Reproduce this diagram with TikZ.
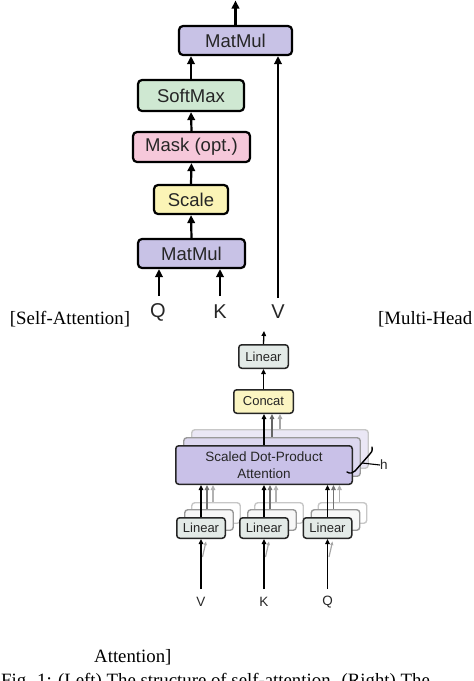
\documentclass[tikz,border=0pt]{standalone}
\usepackage{fontspec}
\setmainfont{Liberation Serif}
\newfontfamily\diagfont{Liberation Sans}
\usetikzlibrary{arrows.meta}
\definecolor{mmfill}{HTML}{C8C2E6}
\definecolor{smfill}{HTML}{CFE8D2}
\definecolor{maskfill}{HTML}{F6C8DA}
\definecolor{scalefill}{HTML}{FBF4B6}
\definecolor{linfill}{HTML}{E3EAE7}
\definecolor{catfill}{HTML}{FBF5C2}
\definecolor{sdpafill}{HTML}{C9C1E8}
\definecolor{sdpaback}{HTML}{DCD7EF}
\definecolor{sdpaback2}{HTML}{EAE7F5}
\begin{document}
\begin{tikzpicture}[x=1pt,y=-1pt,
  bigbox/.style={draw=black, line width=2.2pt, rounded corners=4pt, inner sep=0pt,
    font=\diagfont\fontsize{18.5}{20}\selectfont, text=black!85},
  smallbox/.style={draw=black!85, line width=1.5pt, rounded corners=3pt, inner sep=0pt,
    font=\diagfont\fontsize{13}{15}\selectfont, text=black!85},
  backbox/.style={line width=1.4pt, rounded corners=3pt, inner sep=0pt},
  bigarr/.style={line width=2.2pt, -{Triangle[length=8pt,width=7.5pt]}},
  smallarr/.style={line width=1.3pt, -{Triangle[length=5pt,width=4.5pt]}},
  biglabel/.style={font=\diagfont\fontsize{20}{22}\selectfont, text=black!85, inner sep=0pt},
  smalllabel/.style={font=\diagfont\fontsize{13.5}{15}\selectfont, text=black!85, inner sep=0pt},
  serif/.style={font=\fontsize{18.8}{21}\selectfont, inner sep=0pt},
]
\useasboundingbox (0,0) rectangle (474,681);
\clip (0,0) rectangle (474,681);

% ---------- Self-attention (top) ----------
\node[bigbox, fill=mmfill, minimum width=113pt, minimum height=29pt] (mmtop) at (235.5,40.5) {MatMul};
\node[bigbox, fill=smfill, minimum width=106pt, minimum height=31pt] (soft) at (191,95.5) {SoftMax};
\node[bigbox, fill=maskfill, minimum width=117pt, minimum height=30pt] (mask) at (191.5,147) {Mask (opt.)};
\node[bigbox, fill=scalefill, minimum width=74pt, minimum height=29pt] (scale) at (191,199.5) {Scale};
\node[bigbox, fill=mmfill, minimum width=107pt, minimum height=29pt] (mmbot) at (191.5,253.5) {MatMul};

\coordinate (outtop) at (235.5,0.5);
\draw[bigarr] (mmtop.north) -- (outtop);
\draw[bigarr] (soft.north) -- (soft.north |- mmtop.south);
\draw[bigarr] (mask.north) -- (soft.south);
\draw[bigarr] (scale.north) -- (mask.south);
\draw[bigarr] (mmbot.north) -- (scale.south);

\node[biglabel] (Qt) at (158,312) {Q};
\node[biglabel] (Kt) at (220,312) {K};
\node[biglabel] (Vt) at (278,312) {V};
\coordinate (qs) at (159,296);
\coordinate (ks) at (220,296);
\coordinate (vs) at (278,298);
\draw[bigarr] (qs) -- (qs |- mmbot.south);
\draw[bigarr] (ks) -- (ks |- mmbot.south);
\draw[bigarr] (vs) -- (vs |- mmtop.south);

\node[serif] (selfatt) at (70,319) {[Self-Attention]};
\node[serif, anchor=west] (multihead) at (378,319) {[Multi-Head};

% ---------- Multi-head attention (bottom) ----------
\node[smallbox, fill=linfill, minimum width=49.5pt, minimum height=23.5pt] (lintop) at (263.5,356.5) {Linear};
\node[smallbox, fill=catfill, minimum width=59.5pt, minimum height=23.5pt] (concat) at (263.5,401.5) {Concat};
\coordinate (mhout) at (264,331);
\draw[smallarr] (lintop.north) -- (mhout);
\draw[smallarr] (concat.north) -- (lintop.south);

% SDPA stack
\node[backbox, fill=sdpaback2, draw=black!22, minimum width=176.5pt, minimum height=38.5pt] (sdpa3) at (280,449) {};
\node[backbox, fill=sdpaback, draw=black!40, minimum width=176.5pt, minimum height=38.5pt] (sdpa2) at (272,457) {};
\node[smallbox, fill=sdpafill, minimum width=176.5pt, minimum height=38.5pt, align=center,
      font=\diagfont\fontsize{13.5}{17}\selectfont] (sdpa) at (264,465) {Scaled Dot-Product\\Attention};

\draw[smallarr, draw=black!35] (sdpa3.north) -- (sdpa3.north |- concat.south);
\draw[smallarr, draw=black!60] (sdpa2.north) -- (sdpa2.north |- concat.south);
\draw[smallarr] (sdpa.north) -- (sdpa.north |- concat.south);

% h brace
\coordinate (brlow) at (347,472);
\coordinate (brhigh) at (372,447);
\draw[line width=1.4pt, line cap=round] (brlow) .. controls (350,474) and (353,473) .. (355,471)
   -- (369,455) .. controls (371,453) and (373,451) .. (brhigh);
\coordinate (hstem) at (362,463);
\node[smalllabel, anchor=west] (hlab) at (380,465) {h};
\draw[line width=1.1pt] (hstem) -- (hlab.west);

% Linear stacks
\foreach \n/\x in {v/201, k/264, q/327.5} {
  \node[backbox, fill=white, draw=black!22, minimum width=48.5pt, minimum height=20.5pt] (\n lin3) at (\x+15,513) {};
  \node[backbox, fill=black!3, draw=black!40, minimum width=48.5pt, minimum height=20.5pt] (\n lin2) at (\x+8,520) {};
  \coordinate (\n g3) at ([xshift=-3pt]\n lin3.north);
  \coordinate (\n g2) at ([xshift=-2pt]\n lin2.north);
  \draw[smallarr, draw=black!30] (\n g3) -- (\n g3 |- sdpa.south);
  \draw[smallarr, draw=black!55] (\n g2) -- (\n g2 |- sdpa.south);
  \node[smallbox, fill=linfill, minimum width=48.5pt, minimum height=20.5pt] (\n lin) at (\x,528) {Linear};
  \draw[smallarr] (\n lin.north) -- (\n lin.north |- sdpa.south);
}

\node[smalllabel] (Vb) at (201,602) {V};
\node[smalllabel] (Kb) at (264,602) {K};
\node[smalllabel] (Qb) at (327.5,602) {Q};
\foreach \n/\x in {v/201, k/264, q/327.5} {
  \coordinate (\n in) at (\x,589);
  \coordinate (\n sh) at (\x+1.5,557);
  \coordinate (\n sht) at (\x+5,541.5);
  \draw[line width=1.2pt, draw=black!35, -{Triangle[length=3.5pt,width=3pt]}] (\n sh) -- (\n sht);
  \draw[smallarr] (\n in) -- (\n lin.south);
}

\node[serif, anchor=west] (attend) at (94,657) {Attention]};
\node[serif, anchor=base west] (caption) at (1,686) {Fig. 1: (Left) The structure of self-attention. (Right) The};
\end{tikzpicture}
\end{document}
